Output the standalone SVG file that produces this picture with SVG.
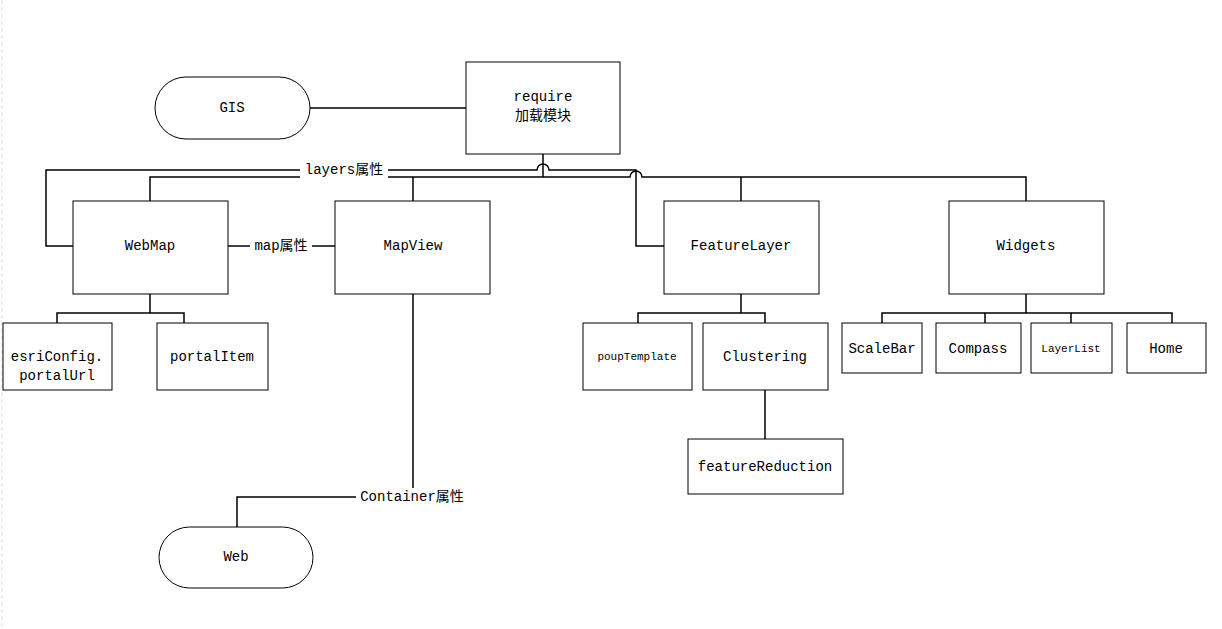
<svg xmlns="http://www.w3.org/2000/svg" width="1222" height="629" viewBox="0 0 1222 629">
<style>
.b{fill:#fff;stroke:#000;stroke-width:1}
.c{fill:none;stroke:#000;stroke-width:1.5}
text{font-family:"Liberation Mono","Noto Sans CJK SC",monospace;font-size:14px;text-anchor:middle;dominant-baseline:central;fill:#000}
.s{font-size:11px}
</style>
<rect width="1222" height="629" fill="#fff"/>
<line x1="2" y1="0" x2="2" y2="629" stroke="#ddd" stroke-dasharray="4 3"/>
<g id="connectors">
<path class="c" d="M310 108H466"/>
<path class="c" d="M543 154V177"/>
<path class="c" d="M150 201V177H630a6 6 0 0 1 12 0H1026V201"/>
<path class="c" d="M413 201V177M741 201V177"/>
<path class="c" d="M664 246H636V170H549a6 6 0 0 0 -12 0H46V246H73"/>
<path class="c" d="M228 246H335"/>
<path class="c" d="M150 294V313M57 323V313H184V323"/>
<path class="c" d="M413 294V497H237V527"/>
<path class="c" d="M741 294V313M638 323V313H765V323"/>
<path class="c" d="M765 390V439"/>
<path class="c" d="M1026 294V313M882 323V313H1172V323M985 313V323M1071 313V323"/>
<rect x="300" y="161" width="88" height="18" fill="#fff"/>
<text x="344" y="170">layers属性</text>
<rect x="250" y="237" width="62" height="18" fill="#fff"/>
<text x="281" y="246">map属性</text>
<rect x="356" y="488" width="112" height="18" fill="#fff"/>
<text x="412" y="497">Container属性</text>
</g>
<g id="require"><rect class="b" x="466" y="62" width="154" height="92"/><text x="543" y="97">require</text><text x="543" y="116">加载模块</text></g>
<g id="gis"><rect class="b" x="155" y="77" width="155" height="62" rx="31"/><text x="232" y="108">GIS</text></g>
<g id="webmap"><rect class="b" x="73" y="201" width="155" height="93"/><text x="150" y="246">WebMap</text></g>
<g id="mapview"><rect class="b" x="335" y="201" width="155" height="93"/><text x="413" y="246">MapView</text></g>
<g id="featurelayer"><rect class="b" x="664" y="201" width="155" height="93"/><text x="741" y="246">FeatureLayer</text></g>
<g id="widgets"><rect class="b" x="949" y="201" width="155" height="93"/><text x="1026" y="246">Widgets</text></g>
<g id="esriconfig"><rect class="b" x="3" y="323" width="109" height="67"/><text x="57" y="357">esriConfig.</text><text x="57" y="376">portalUrl</text></g>
<g id="portalitem"><rect class="b" x="157" y="323" width="111" height="67"/><text x="212" y="357">portalItem</text></g>
<g id="pouptemplate"><rect class="b" x="583" y="323" width="109" height="67"/><text class="s" x="637" y="357">poupTemplate</text></g>
<g id="clustering"><rect class="b" x="703" y="323" width="125" height="67"/><text x="765" y="357">Clustering</text></g>
<g id="featurereduction"><rect class="b" x="688" y="439" width="155" height="55"/><text x="765" y="467">featureReduction</text></g>
<g id="scalebar"><rect class="b" x="842" y="323" width="80" height="50"/><text x="882" y="349">ScaleBar</text></g>
<g id="compass"><rect class="b" x="936" y="323" width="85" height="50"/><text x="978" y="349">Compass</text></g>
<g id="layerlist"><rect class="b" x="1031" y="323" width="81" height="50"/><text class="s" x="1071" y="349">LayerList</text></g>
<g id="home"><rect class="b" x="1127" y="323" width="79" height="50"/><text x="1166" y="349">Home</text></g>
<g id="web"><rect class="b" x="159" y="527" width="154" height="61" rx="30.5"/><text x="236" y="557">Web</text></g>
</svg>
